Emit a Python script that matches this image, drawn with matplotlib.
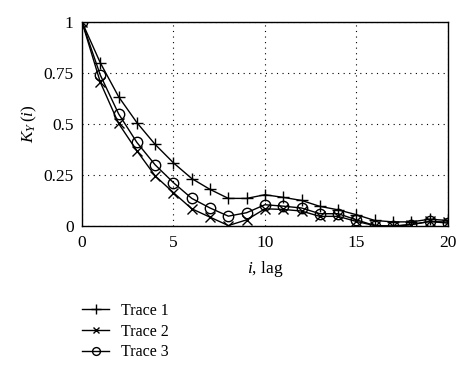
import matplotlib
matplotlib.use("Agg")
import matplotlib.pyplot as plt

lags = list(range(21))
trace1 = [1.0, 0.80, 0.634, 0.507, 0.40, 0.31, 0.233, 0.18, 0.136, 0.136, 0.154,
          0.141, 0.126, 0.097, 0.080, 0.056, 0.028, 0.021, 0.021, 0.034, 0.028]
trace2 = [1.0, 0.705, 0.503, 0.369, 0.246, 0.164, 0.085, 0.044, 0.003, 0.031, 0.085,
          0.082, 0.074, 0.048, 0.048, 0.023, 0.003, 0.0, 0.008, 0.023, 0.02]
trace3 = [1.0, 0.74, 0.55, 0.41, 0.30, 0.213, 0.136, 0.089, 0.049, 0.066, 0.105,
          0.098, 0.089, 0.061, 0.061, 0.031, 0.003, 0.0, 0.008, 0.023, 0.015]
labels = ["Trace 1", "Trace 2", "Trace 3"]
xticks = [0, 5, 10, 15, 20]
yticks = [0, 0.25, 0.5, 0.75, 1]
yticklabels = ["0", "0.25", "0.5", "0.75", "1"]

plt.rcParams['font.family'] = ['Liberation Serif', 'DejaVu Serif']
plt.rcParams['mathtext.fontset'] = 'custom'
plt.rcParams['mathtext.it'] = 'Liberation Serif:italic'
plt.rcParams['mathtext.rm'] = 'Liberation Serif'

fig = plt.figure(figsize=(4.74, 3.72), dpi=100)
ax = fig.add_axes([0.173, 0.392, 0.772, 0.549])

lw = 1.0
l1, = ax.plot(lags, trace1, color='black', lw=lw, marker='+', ms=9, mew=1.0, label=labels[0])
l2, = ax.plot(lags, trace2, color='black', lw=lw, marker='x', ms=6.5, mew=1.0, label=labels[1])
l3, = ax.plot(lags, trace3, color='black', lw=lw, marker='o', ms=7.5, mew=1.0,
              fillstyle='none', label=labels[2])

ax.set_xlim(0, 20)
ax.set_ylim(0, 1)
ax.set_xticks(xticks)
ax.set_yticks(yticks)
ax.set_yticklabels(yticklabels)
ax.tick_params(length=0, labelsize=12.5, pad=6)
ax.grid(True, linestyle=(0, (1, 4)), color='black', lw=0.8)
for s in ax.spines.values():
    s.set_linewidth(1.0)

ax.set_xlabel(r"$i$, lag", fontsize=12.5, labelpad=6)
ax.set_ylabel(r"$K_Y\,(i)$", fontsize=12.5, labelpad=3)

fig.legend(handles=[l1, l2, l3], loc='upper left', bbox_to_anchor=(0.16, 0.203),
           frameon=False, fontsize=11.5, handlelength=1.7, handletextpad=0.75,
           labelspacing=0.3, borderaxespad=0, markerscale=0.75)

fig.savefig("out.png", dpi=100)
